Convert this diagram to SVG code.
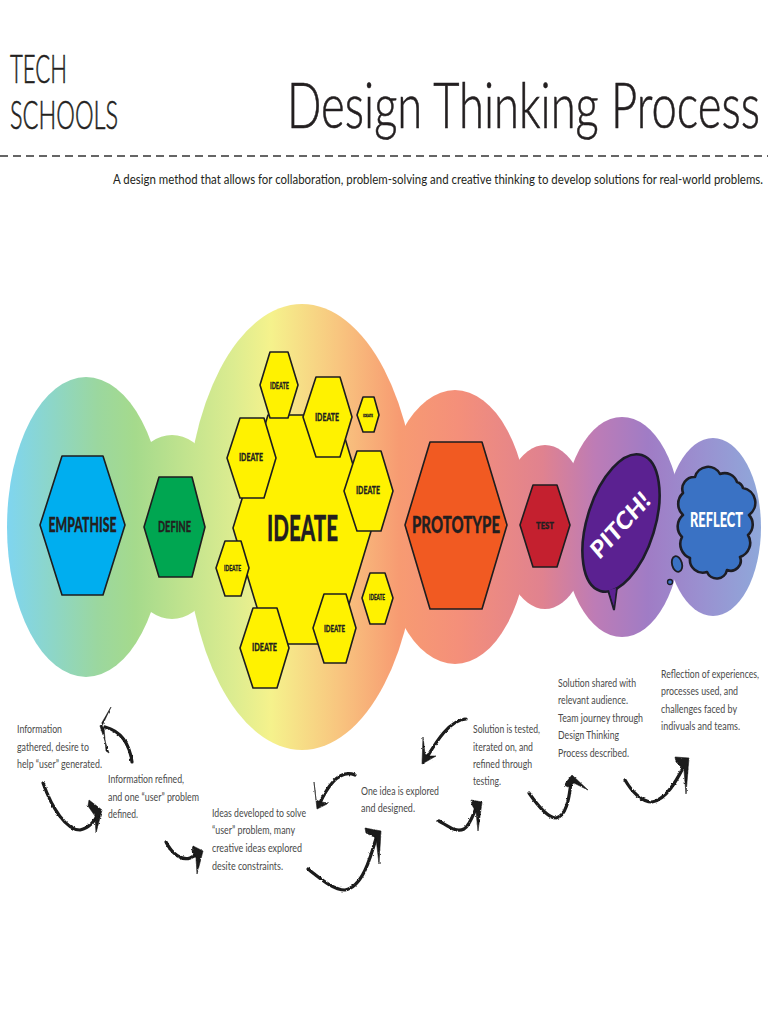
<svg xmlns="http://www.w3.org/2000/svg" width="768" height="1024" viewBox="0 0 768 1024">
<style>
text{font-family:"Lato","Open Sans","Liberation Sans",sans-serif;fill:#231f20}
.t{font-weight:300;stroke:#231f20;stroke-width:.6}
.h{stroke:#1d1d1f;stroke-width:1.6;stroke-linejoin:round}
.y{fill:#fff200}
.l{font-weight:900;text-anchor:middle;stroke:#231f20;stroke-width:.3}
.d{font-size:12px;fill:#4a4a4a;font-weight:400}
.s{fill:none;stroke:#1a1a1a;stroke-width:3.200;stroke-linecap:round}
.a{fill:#1a1a1a;stroke:#1a1a1a;stroke-width:.6}
</style>
<defs>
<linearGradient id="band" gradientUnits="userSpaceOnUse" x1="7" y1="0" x2="761" y2="0">
<stop offset="0" stop-color="#7fd5f0"/>
<stop offset="0.12" stop-color="#9bd79f"/>
<stop offset="0.17" stop-color="#a5da8c"/>
<stop offset="0.3" stop-color="#dcec90"/>
<stop offset="0.35" stop-color="#f5f28c"/>
<stop offset="0.44" stop-color="#f8c57f"/>
<stop offset="0.52" stop-color="#f79b72"/>
<stop offset="0.6" stop-color="#f48f7a"/>
<stop offset="0.71" stop-color="#e0828f"/>
<stop offset="0.78" stop-color="#bd7cb6"/>
<stop offset="0.85" stop-color="#a07cc5"/>
<stop offset="0.92" stop-color="#9a90d0"/>
<stop offset="1" stop-color="#8fa8da"/>
</linearGradient>
<filter id="brush" x="-10%" y="-10%" width="120%" height="120%">
<feTurbulence type="fractalNoise" baseFrequency="0.35" numOctaves="2" seed="4"/>
<feDisplacementMap in="SourceGraphic" scale="2.500" xChannelSelector="R" yChannelSelector="G"/>
</filter>
</defs>
<rect width="768" height="1024" fill="#fff"/>
<g id="header">
<text class="t" x="10" y="83" font-size="40" textLength="57" lengthAdjust="spacingAndGlyphs">TECH</text>
<text class="t" x="10" y="129" font-size="40" textLength="108" lengthAdjust="spacingAndGlyphs">SCHOOLS</text>
<text class="t" x="287" y="128" font-size="64" textLength="473" lengthAdjust="spacingAndGlyphs">Design Thinking Process</text>
<line x1="0" y1="156" x2="768" y2="156" stroke="#333" stroke-width="1.3" stroke-dasharray="8 5"/>
<text x="113" y="184" font-size="13" fill="#444" textLength="650" lengthAdjust="spacingAndGlyphs">A design method that allows for collaboration, problem-solving and creative thinking to develop solutions for real-world problems.</text>
</g>
<g id="band-shape" fill="url(#band)">
<ellipse cx="86" cy="527" rx="79" ry="150"/>
<ellipse cx="172" cy="527" rx="55" ry="92"/>
<ellipse cx="302" cy="527" rx="116" ry="223"/>
<ellipse cx="455" cy="527" rx="74" ry="137"/>
<ellipse cx="545" cy="527" rx="45" ry="82"/>
<ellipse cx="622" cy="527" rx="60" ry="110"/>
<ellipse cx="713" cy="527" rx="48" ry="89"/>
</g>
<g id="empathise">
<polygon class="h" fill="#00aeef" points="40,525 62,456 103,456 125,525 103,595 62,595"/>
<text x="82.500" y="532" font-size="21" class="l" textLength="68" lengthAdjust="spacingAndGlyphs">EMPATHISE</text>
</g>
<g id="define">
<polygon class="h" fill="#00a651" points="144,527 159,477 192,477 205,527 192,577 159,577"/>
<text x="174.500" y="532" font-size="14.500" class="l" textLength="33" lengthAdjust="spacingAndGlyphs">DEFINE</text>
</g>
<g id="ideate-main">
<polygon class="h y" points="233,528 268,415 338,415 372,528 337,644 268,644"/>
<text x="302.500" y="541" font-size="36" class="l" textLength="71" lengthAdjust="spacingAndGlyphs">IDEATE</text>
</g>
<g id="ideate-a"><polygon class="h y" points="260,385 270,352 288,352 298,385 288,418 270,418"/><text x="279.500" y="389" font-size="9" class="l" textLength="19" lengthAdjust="spacingAndGlyphs">IDEATE</text></g>
<g id="ideate-b"><polygon class="h y" points="303,417 316,377 340,377 352,417 340,457 316,457"/><text x="327" y="421" font-size="10.500" class="l" textLength="24" lengthAdjust="spacingAndGlyphs">IDEATE</text></g>
<g id="ideate-c"><polygon class="h y" points="357,415 363,397 374,397 379,415 374,432 363,432"/><text x="368" y="416.500" font-size="4.500" class="l" textLength="10" lengthAdjust="spacingAndGlyphs">IDEATE</text></g>
<g id="ideate-d"><polygon class="h y" points="227,458 240,418 264,418 276,458 264,498 240,498"/><text x="251" y="461" font-size="10.500" class="l" textLength="24" lengthAdjust="spacingAndGlyphs">IDEATE</text></g>
<g id="ideate-e"><polygon class="h y" points="344,491 357,451 381,451 393,491 381,531 357,531"/><text x="368" y="494" font-size="10.500" class="l" textLength="24" lengthAdjust="spacingAndGlyphs">IDEATE</text></g>
<g id="ideate-f"><polygon class="h y" points="216,568 225,541 241,541 249,568 241,596 225,596"/><text x="232.500" y="570.500" font-size="7.500" class="l" textLength="17" lengthAdjust="spacingAndGlyphs">IDEATE</text></g>
<g id="ideate-g"><polygon class="h y" points="362,598 370,573 385,573 393,598 385,624 370,624"/><text x="377" y="600" font-size="7" class="l" textLength="16" lengthAdjust="spacingAndGlyphs">IDEATE</text></g>
<g id="ideate-h"><polygon class="h y" points="313,628 324,594 346,594 356,628 346,663 324,663"/><text x="334.500" y="632" font-size="9.500" class="l" textLength="21" lengthAdjust="spacingAndGlyphs">IDEATE</text></g>
<g id="ideate-i"><polygon class="h y" points="240,648 253,608 277,608 289,648 277,688 253,688"/><text x="264.500" y="651" font-size="10.500" class="l" textLength="25" lengthAdjust="spacingAndGlyphs">IDEATE</text></g>
<g id="prototype">
<polygon class="h" fill="#f15a22" points="405,525 430,442 482,442 507,525 482,609 430,609"/>
<text x="456" y="533" font-size="23" class="l" textLength="88" lengthAdjust="spacingAndGlyphs">PROTOTYPE</text>
</g>
<g id="test">
<polygon class="h" fill="#c4202f" points="520,525 533,485 557,485 570,525 557,567 533,567"/>
<text x="545" y="529" font-size="10" class="l" textLength="18" lengthAdjust="spacingAndGlyphs">TEST</text>
</g>
<g id="pitch">
<path d="M608 590 L614 610 L617 587 Z" fill="#5b2191" stroke="#1d1d2a" stroke-width="2"/>
<ellipse cx="621" cy="523" rx="34" ry="71" transform="rotate(17 621 523)" fill="#5b2191" stroke="#1d1d2a" stroke-width="2.600"/>
<path d="M609 590 L614 606 L616 588 Z" fill="#5b2191"/>
<text x="621" y="533" font-size="23" font-weight="900" font-style="italic" text-anchor="middle" style="fill:#fff" transform="rotate(-48 621 526)" textLength="78" lengthAdjust="spacingAndGlyphs">PITCH!</text>
</g>
<g id="reflect">
<path d="M695 477 A13.500 13.500 0 0 1 720 474 A13 13 0 0 1 737 482 A9 9 0 0 1 743 488 A15 15 0 0 1 749 515 A14 14 0 0 1 748 535 A15 15 0 0 1 740 557 A10 10 0 0 1 727 570 A10.500 10.500 0 0 1 707 572 A13 13 0 0 1 690 558 A15 15 0 0 1 682 537 A15 15 0 0 1 683 515 A15 15 0 0 1 683 493 A12 12 0 0 1 695 477 Z" fill="#3a72c4" stroke="#1d1d24" stroke-width="2.600" stroke-linejoin="round"/>
<ellipse cx="677" cy="564" rx="5" ry="8" transform="rotate(-15 677 564)" fill="#3a72c4" stroke="#1d1d24" stroke-width="1.800"/>
<circle cx="670" cy="582" r="2.500" fill="#3a72c4" stroke="#1d1d24" stroke-width="1.300"/>
<text x="716.500" y="527" font-size="20" font-weight="900" text-anchor="middle" style="fill:#fff" textLength="53" lengthAdjust="spacingAndGlyphs">REFLECT</text>
</g>
<g id="connectors" filter="url(#brush)">
<path class="s" d="M132 762 Q128 733 105 727"/>
<path class="a" d="M111 707 L100 726 L109 753 L106 751 L104 728 L102 726 Z"/>
<path class="s" d="M43 783 C52 808 66 830 80 830 C90 828 95 820 99 813"/>
<path class="a" d="M89 800 L102 810 L96 833 L95 816 L88 806 Z"/>
<path class="s" d="M166 842 C172 854 182 861 190 858 L200 853"/>
<path class="a" d="M193 846 L203 851 L197 874 L196 858 L192 851 Z"/>
<path class="s" d="M308 869 C322 880 334 890 345 890 C362 887 370 860 377 835"/>
<path class="a" d="M365 828 L381 831 L379 864 L376 838 L366 833 Z"/>
<path class="s" d="M355 775 C340 769 328 785 319 805"/>
<path class="a" d="M314 782 L317 809 L329 803 L321 802 L316 800 Z"/>
<path class="s" d="M466 719 C450 720 437 740 426 759"/>
<path class="a" d="M423 737 L422 764 L436 756 L429 756 L425 754 Z"/>
<path class="s" d="M439 821 C448 826 456 833 464 829 C470 825 473 815 476 808"/>
<path class="a" d="M471 800 L482 802 L478 831 L476 812 L472 805 Z"/>
<path class="s" d="M529 793 C538 806 548 818 556 818 C566 816 569 800 571 782"/>
<path class="a" d="M564 785 L572 775 L588 790 L574 783 L568 787 Z"/>
<path class="s" d="M625 780 C632 792 642 802 652 802 C666 800 677 780 684 766"/>
<path class="a" d="M675 757 L689 758 L686 794 L684 770 L676 762 Z"/>
</g>
<g id="captions">
<text class="d" x="17" y="733" textLength="45" lengthAdjust="spacingAndGlyphs">Information</text>
<text class="d" x="17" y="750.500" textLength="72" lengthAdjust="spacingAndGlyphs">gathered, desire to</text>
<text class="d" x="17" y="768" textLength="85" lengthAdjust="spacingAndGlyphs">help “user” generated.</text>
<text class="d" x="108" y="783" textLength="76" lengthAdjust="spacingAndGlyphs">Information refined,</text>
<text class="d" x="108" y="800.500" textLength="91" lengthAdjust="spacingAndGlyphs">and one “user” problem</text>
<text class="d" x="108" y="818" textLength="30" lengthAdjust="spacingAndGlyphs">defined.</text>
<text class="d" x="212" y="816.500" textLength="94" lengthAdjust="spacingAndGlyphs">Ideas developed to solve</text>
<text class="d" x="212" y="834" textLength="83" lengthAdjust="spacingAndGlyphs">“user” problem, many</text>
<text class="d" x="212" y="852" textLength="90" lengthAdjust="spacingAndGlyphs">creative ideas explored</text>
<text class="d" x="212" y="869.500" textLength="71" lengthAdjust="spacingAndGlyphs">desite constraints.</text>
<text class="d" x="361" y="795" textLength="78" lengthAdjust="spacingAndGlyphs">One idea is explored</text>
<text class="d" x="361" y="812" textLength="54" lengthAdjust="spacingAndGlyphs">and designed.</text>
<text class="d" x="473" y="733" textLength="67" lengthAdjust="spacingAndGlyphs">Solution is tested,</text>
<text class="d" x="473" y="750.500" textLength="60" lengthAdjust="spacingAndGlyphs">iterated on, and</text>
<text class="d" x="473" y="768" textLength="59" lengthAdjust="spacingAndGlyphs">refined through</text>
<text class="d" x="473" y="785" textLength="28" lengthAdjust="spacingAndGlyphs">testing.</text>
<text class="d" x="558" y="687" textLength="78" lengthAdjust="spacingAndGlyphs">Solution shared with</text>
<text class="d" x="558" y="704" textLength="70" lengthAdjust="spacingAndGlyphs">relevant audience.</text>
<text class="d" x="558" y="722" textLength="85" lengthAdjust="spacingAndGlyphs">Team journey through</text>
<text class="d" x="558" y="739" textLength="61" lengthAdjust="spacingAndGlyphs">Design Thinking</text>
<text class="d" x="558" y="757" textLength="71" lengthAdjust="spacingAndGlyphs">Process described.</text>
<text class="d" x="661" y="678" textLength="98" lengthAdjust="spacingAndGlyphs">Reflection of experiences,</text>
<text class="d" x="661" y="695" textLength="77" lengthAdjust="spacingAndGlyphs">processes used, and</text>
<text class="d" x="661" y="713" textLength="76" lengthAdjust="spacingAndGlyphs">challenges faced by</text>
<text class="d" x="661" y="730" textLength="79" lengthAdjust="spacingAndGlyphs">indivuals and teams.</text>
</g>
</svg>
